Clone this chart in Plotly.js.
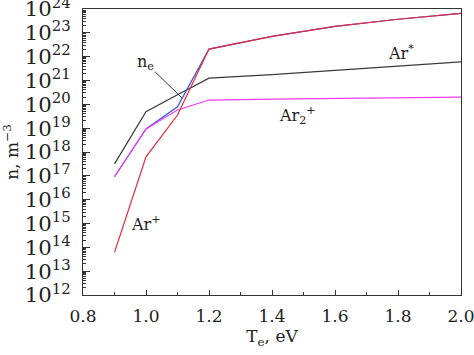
<!DOCTYPE html>
<html>
<head>
<meta charset="utf-8">
<script src="https://cdn.plot.ly/plotly-3.0.1.min.js"></script>
<style>html,body{margin:0;padding:0;background:#fff;}#chart{width:474px;height:355px;}</style>
</head>
<body>
<div id="chart"></div>
<script>
// Electron temperature, eV
const Te = [0.9, 1.0, 1.1, 1.2, 1.4, 1.6, 1.8, 2.0];
// log10 of densities, m^-3
const logArStar = [17.5, 19.69, 20.4, 21.1, 21.25, 21.42, 21.6, 21.78];
const logNe     = [16.96, 18.97, 19.9, 22.32, 22.85, 23.27, 23.57, 23.82];
const logAr2p   = [16.96, 18.97, 19.76, 20.18, 20.22, 20.25, 20.28, 20.3];
const logArp    = [13.79, 17.8, 19.55, 22.32, 22.85, 23.27, 23.57, 23.82];
const yRange = [12, 24];
const xTickVals = [0.8, 1.0, 1.2, 1.4, 1.6, 1.8, 2.0];
const xTickText = ['0.8','1.0','1.2','1.4','1.6','1.8','2.0'];

const pw = v => v.map(e => Math.pow(10, e));
const font = 'DejaVu Serif, Liberation Serif, serif';

const traces = [
  {x: Te, y: pw(logArStar), mode:'lines', line:{color:'#3a3a3a', width:1.2}},
  {x: Te, y: pw(logNe), mode:'lines', line:{color:'#2f4fe8', width:1.2}},
  {x: Te, y: pw(logAr2p), mode:'lines', line:{color:'#f03cf0', width:1.2}},
  {x: Te, y: pw(logArp), mode:'lines', line:{color:'#e8283a', width:1.2}}
];

const layout = {
  width: 474, height: 355,
  margin: {l:83, r:13, t:9, b:60},
  showlegend: false,
  paper_bgcolor:'#fff', plot_bgcolor:'#fff',
  font: {family: font, size: 17, color:'#222'},
  xaxis: {
    range:[0.8, 2.0], tickvals: xTickVals, ticktext: xTickText,
    ticks:'inside', ticklen:5, tickcolor:'#333', showgrid:false, zeroline:false,
    showline:true, linecolor:'#333', linewidth:1, mirror:true,
    minor:{dtick:0.1, ticks:'inside', ticklen:3, tickcolor:'#333', showgrid:false},
    title:{text:'T<sub>e</sub>, eV', font:{family:font, size:17}, standoff:4},
    tickfont:{family:font, size:17}, ticklabelstandoff:6, ticklabeloverflow:'allow'
  },
  yaxis: {
    type:'log', range: yRange, dtick:1, exponentformat:'power',
    ticks:'inside', ticklen:7, tickcolor:'#333', showgrid:false, zeroline:false,
    showline:true, linecolor:'#333', linewidth:1, mirror:true,
    minor:{dtick:'D1', ticks:'inside', ticklen:3, tickcolor:'#333', showgrid:false},
    title:{text:'n, m<sup>\u22123</sup>', font:{family:font, size:17}, standoff:6},
    tickfont:{family:font, size:17}, ticklabelstandoff:8, ticklabeloverflow:'allow'
  },
  annotations: [
    {x:0.998, y:21.74, xref:'x', yref:'y', text:'n<sub>e</sub>', showarrow:false, font:{family:font, size:16}},
    {x:1.81, y:22.16, xref:'x', yref:'y', text:'Ar<sup>*</sup>', showarrow:false, font:{family:font, size:16}},
    {x:1.48, y:19.55, xref:'x', yref:'y', text:'Ar<sub>2</sub><sup>+</sup>', showarrow:false, font:{family:font, size:16}},
    {x:1.0, y:15.02, xref:'x', yref:'y', text:'Ar<sup>+</sup>', showarrow:false, font:{family:font, size:16}}
  ],
  shapes: [
    {type:'line', xref:'x', yref:'y', x0:1.029, y0:Math.pow(10,21.36), x1:1.114, y1:Math.pow(10,20.27), line:{color:'#3a3a3a', width:1}}
  ]
};

Plotly.newPlot('chart', traces, layout, {displayModeBar:false, staticPlot:true});
</script>
</body>
</html>
